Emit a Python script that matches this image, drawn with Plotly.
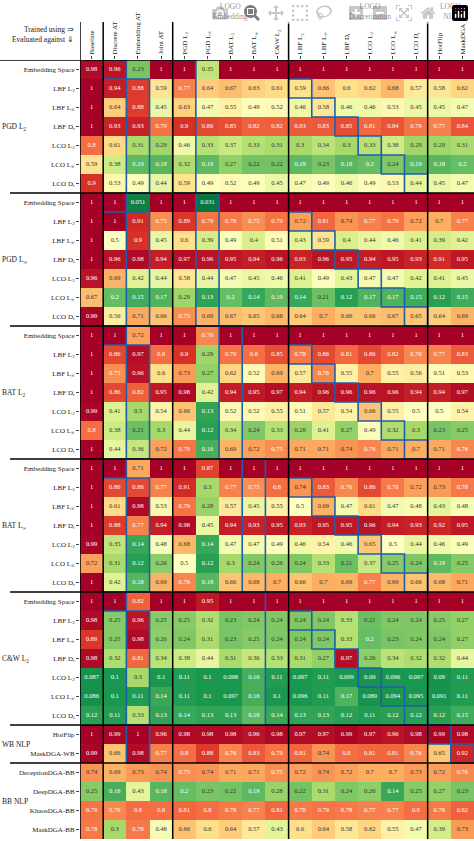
import plotly.graph_objects as go

cols = ["Baseline", "Discrete AT", "Embedding AT", "Joint AT", "PGD L<sub>2</sub>", "PGD L<sub>∞</sub>",
        "BAT L<sub>2</sub>", "BAT L<sub>∞</sub>", "C&W L<sub>2</sub>", "LBF L<sub>2</sub>", "LBF L<sub>∞</sub>",
        "LBF D<sub>r</sub>", "LCO L<sub>2</sub>", "LCO L<sub>∞</sub>", "LCO D<sub>r</sub>", "HotFlip", "MaskDGA"]
sub_rows = ["Embedding Space", "LBF L<sub>2</sub>", "LBF L<sub>∞</sub>", "LBF D<sub>r</sub>",
            "LCO L<sub>2</sub>", "LCO L<sub>∞</sub>", "LCO D<sub>r</sub>"]
groups = ["PGD L<sub>2</sub>", "PGD L<sub>∞</sub>", "BAT L<sub>2</sub>", "BAT L<sub>∞</sub>", "C&W L<sub>2</sub>"]
wb_rows = ["HotFlip", "MaskDGA-WB"]
bb_rows = ["DeceptionDGA-BB", "DeepDGA-BB", "KhaosDGA-BB", "MaskDGA-BB"]

pgd_l2 = [
    [0.98, 0.96, 0.23, 1, 1, 0.35, 1, 1, 1, 1, 1, 1, 1, 1, 1, 1, 1],
    [1, 0.94, 0.88, 0.59, 0.77, 0.64, 0.67, 0.63, 0.61, 0.59, 0.66, 0.6, 0.62, 0.68, 0.57, 0.58, 0.62],
    [1, 0.64, 0.88, 0.45, 0.63, 0.47, 0.55, 0.49, 0.52, 0.46, 0.58, 0.46, 0.46, 0.53, 0.45, 0.45, 0.47],
    [1, 0.93, 0.93, 0.79, 0.9, 0.86, 0.85, 0.82, 0.82, 0.83, 0.83, 0.85, 0.81, 0.84, 0.79, 0.77, 0.84],
    [0.8, 0.61, 0.31, 0.29, 0.46, 0.33, 0.37, 0.33, 0.31, 0.3, 0.34, 0.3, 0.33, 0.38, 0.29, 0.29, 0.31],
    [0.59, 0.38, 0.19, 0.18, 0.32, 0.19, 0.27, 0.22, 0.22, 0.19, 0.23, 0.18, 0.2, 0.24, 0.19, 0.18, 0.2],
    [0.9, 0.53, 0.49, 0.44, 0.59, 0.49, 0.52, 0.49, 0.45, 0.47, 0.49, 0.46, 0.49, 0.53, 0.44, 0.45, 0.47],
]
pgd_linf = [
    [1, 1, 0.051, 1, 1, 0.031, 1, 1, 1, 1, 1, 1, 1, 1, 1, 1, 1],
    [1, 1, 0.91, 0.75, 0.89, 0.79, 0.78, 0.75, 0.79, 0.72, 0.81, 0.74, 0.77, 0.79, 0.72, 0.7, 0.77],
    [1, 0.5, 0.9, 0.45, 0.6, 0.39, 0.49, 0.4, 0.51, 0.43, 0.59, 0.4, 0.44, 0.46, 0.41, 0.39, 0.42],
    [1, 0.96, 0.98, 0.94, 0.97, 0.96, 0.95, 0.94, 0.96, 0.93, 0.96, 0.95, 0.94, 0.95, 0.93, 0.91, 0.95],
    [0.96, 0.69, 0.42, 0.44, 0.58, 0.44, 0.47, 0.45, 0.46, 0.41, 0.49, 0.43, 0.47, 0.47, 0.42, 0.41, 0.45],
    [0.67, 0.2, 0.15, 0.17, 0.29, 0.13, 0.2, 0.14, 0.19, 0.14, 0.21, 0.12, 0.17, 0.17, 0.15, 0.12, 0.15],
    [0.99, 0.56, 0.71, 0.66, 0.75, 0.69, 0.67, 0.65, 0.68, 0.64, 0.7, 0.66, 0.66, 0.67, 0.65, 0.64, 0.69],
]
bat_l2 = [
    [1, 1, 0.72, 1, 1, 0.76, 1, 1, 1, 1, 1, 1, 1, 1, 1, 1, 1],
    [1, 0.86, 0.97, 0.8, 0.9, 0.29, 0.79, 0.8, 0.85, 0.78, 0.86, 0.81, 0.86, 0.82, 0.76, 0.77, 0.83],
    [1, 0.75, 0.96, 0.6, 0.73, 0.27, 0.62, 0.52, 0.69, 0.57, 0.76, 0.55, 0.7, 0.55, 0.56, 0.51, 0.53],
    [1, 0.86, 0.82, 0.95, 0.98, 0.42, 0.94, 0.95, 0.97, 0.94, 0.96, 0.96, 0.96, 0.96, 0.94, 0.94, 0.97],
    [0.99, 0.41, 0.3, 0.54, 0.66, 0.13, 0.52, 0.52, 0.55, 0.51, 0.57, 0.54, 0.66, 0.55, 0.5, 0.5, 0.54],
    [0.8, 0.38, 0.21, 0.3, 0.44, 0.12, 0.34, 0.24, 0.33, 0.28, 0.41, 0.27, 0.49, 0.32, 0.3, 0.23, 0.25],
    [1, 0.44, 0.36, 0.72, 0.79, 0.16, 0.69, 0.72, 0.75, 0.71, 0.71, 0.74, 0.76, 0.71, 0.7, 0.71, 0.76],
]
bat_linf = [
    [1, 1, 0.71, 1, 1, 0.87, 1, 1, 1, 1, 1, 1, 1, 1, 1, 1, 1],
    [1, 0.86, 0.86, 0.77, 0.91, 0.3, 0.77, 0.75, 0.8, 0.74, 0.83, 0.76, 0.86, 0.78, 0.72, 0.73, 0.78],
    [1, 0.61, 0.98, 0.53, 0.79, 0.28, 0.57, 0.45, 0.55, 0.5, 0.69, 0.47, 0.61, 0.47, 0.48, 0.43, 0.48],
    [1, 0.88, 0.77, 0.94, 0.98, 0.45, 0.94, 0.93, 0.95, 0.93, 0.95, 0.95, 0.96, 0.94, 0.93, 0.92, 0.95],
    [0.99, 0.35, 0.14, 0.48, 0.68, 0.14, 0.47, 0.47, 0.49, 0.46, 0.54, 0.46, 0.65, 0.5, 0.44, 0.46, 0.49],
    [0.72, 0.31, 0.12, 0.26, 0.5, 0.12, 0.3, 0.24, 0.26, 0.24, 0.33, 0.21, 0.37, 0.25, 0.24, 0.19, 0.25],
    [1, 0.42, 0.18, 0.69, 0.76, 0.18, 0.66, 0.68, 0.7, 0.66, 0.7, 0.69, 0.77, 0.69, 0.66, 0.68, 0.71],
]
cw_l2 = [
    [1, 1, 0.82, 1, 1, 0.95, 1, 1, 1, 1, 1, 1, 1, 1, 1, 1, 1],
    [0.98, 0.25, 0.96, 0.25, 0.25, 0.32, 0.23, 0.24, 0.24, 0.24, 0.24, 0.33, 0.21, 0.24, 0.24, 0.25, 0.27],
    [0.89, 0.25, 0.98, 0.26, 0.24, 0.31, 0.23, 0.25, 0.24, 0.24, 0.24, 0.33, 0.2, 0.23, 0.24, 0.24, 0.27],
    [0.98, 0.32, 0.81, 0.34, 0.38, 0.44, 0.31, 0.36, 0.33, 0.31, 0.27, 0.97, 0.26, 0.34, 0.32, 0.32, 0.44],
    [0.087, 0.1, 0.3, 0.1, 0.11, 0.1, 0.098, 0.16, 0.11, 0.097, 0.11, 0.099, 0.09, 0.096, 0.097, 0.09, 0.11],
    [0.086, 0.1, 0.11, 0.14, 0.11, 0.1, 0.097, 0.16, 0.1, 0.096, 0.11, 0.17, 0.089, 0.094, 0.095, 0.091, 0.11],
    [0.12, 0.11, 0.33, 0.13, 0.14, 0.13, 0.13, 0.19, 0.14, 0.13, 0.13, 0.12, 0.11, 0.12, 0.12, 0.12, 0.15],
]
wb_nlp = [
    [1, 0.99, 1, 0.96, 0.98, 0.98, 0.98, 0.96, 0.98, 0.97, 0.97, 0.99, 0.97, 0.96, 0.98, 0.99, 0.98],
    [0.99, 0.66, 0.98, 0.77, 0.8, 0.88, 0.76, 0.83, 0.79, 0.81, 0.74, 0.8, 0.81, 0.81, 0.76, 0.65, 0.92],
]
bb_nlp = [
    [0.74, 0.69, 0.73, 0.74, 0.75, 0.74, 0.71, 0.71, 0.75, 0.72, 0.74, 0.72, 0.7, 0.7, 0.73, 0.72, 0.76],
    [0.25, 0.16, 0.43, 0.18, 0.2, 0.23, 0.22, 0.19, 0.28, 0.22, 0.31, 0.24, 0.26, 0.14, 0.25, 0.27, 0.23],
    [0.79, 0.76, 0.8, 0.8, 0.81, 0.8, 0.78, 0.77, 0.81, 0.78, 0.79, 0.78, 0.77, 0.77, 0.8, 0.78, 0.82],
    [0.78, 0.3, 0.78, 0.48, 0.66, 0.6, 0.64, 0.57, 0.43, 0.6, 0.64, 0.58, 0.62, 0.55, 0.47, 0.39, 0.73],
]

Z = pgd_l2 + pgd_linf + bat_l2 + bat_linf + cw_l2 + wb_nlp + bb_nlp
row_labels = sub_rows * 5 + wb_rows + bb_rows
nr, nc = len(Z), len(cols)
FONT = "Liberation Serif"

def fmt(v):
    return ("%g" % v)

fig = go.Figure()
fig.add_trace(go.Heatmap(z=Z, x=list(range(nc)), y=list(range(nr)), colorscale="RdYlGn_r",
                         zmin=0, zmax=1, showscale=False, xgap=0, ygap=0, hoverinfo="skip"))
for light in (True, False):
    xs, ys, ts = [], [], []
    for r in range(nr):
        for c in range(nc):
            v = Z[r][c]
            is_light = v >= 0.75 or v <= 0.2
            if is_light == light:
                xs.append(c); ys.append(r); ts.append(fmt(v))
    fig.add_trace(go.Scatter(x=xs, y=ys, text=ts, mode="text", hoverinfo="skip", showlegend=False,
                             textfont=dict(size=6.5, family=FONT, color="white" if light else "#333")))

shapes = []
blue = dict(color="#1f5fa8", width=1.6)
def box(c0, c1, r0, r1):
    shapes.append(dict(type="rect", xref="x", yref="y", x0=c0 - 0.5, x1=c1 + 0.5, y0=r0 - 0.5, y1=r1 + 0.5,
                       line=blue, fillcolor="rgba(0,0,0,0)"))
for g in range(5):
    b = g * 7
    box(1, 1, b, b)
    box(2, 2, b + 1, b + 6)
    box(4 + g, 4 + g, b, b + 6)
    for k in range(6):
        box(9 + k, 9 + k, b + 1 + k, b + 1 + k)
box(2, 2, 35, 36)
box(15, 15, 35, 35)
box(16, 16, 36, 36)

black = dict(color="black", width=1.5)
head_top = 1 + 38 / 779
for c in (-0.5, 0.5, 3.5, 8.5, 14.5):
    shapes.append(dict(type="line", xref="x", yref="paper", x0=c, x1=c, y0=0, y1=head_top, line=black))
for r in (6.5, 13.5, 20.5, 27.5, 34.5, 36.5):
    shapes.append(dict(type="line", xref="paper", yref="y", x0=-70 / 394, x1=1, y0=r, y1=r, line=black))
shapes.append(dict(type="line", xref="paper", yref="y", x0=-80 / 394, x1=1, y0=-0.5, y1=-0.5, line=black))

ann = []
for g, name in enumerate(groups):
    ann.append(dict(text=name, xref="paper", yref="y", x=-80 / 394, y=g * 7 + 3, xanchor="left",
                    showarrow=False, font=dict(size=7.5, family=FONT, color="#222")))
ann.append(dict(text="WB NLP", xref="paper", yref="y", x=-80 / 394, y=35.5, xanchor="left",
                showarrow=False, font=dict(size=7.5, family=FONT, color="#222")))
ann.append(dict(text="BB NLP", xref="paper", yref="y", x=-80 / 394, y=38.5, xanchor="left",
                showarrow=False, font=dict(size=7.5, family=FONT, color="#222")))
for txt, c in (("LOGO<br>Embedding", 6), ("LOGO<br>Discretization", 12), ("LOGO<br>NLP", 15.5)):
    ann.append(dict(text=txt, xref="x", yref="paper", x=c, y=1 + 37 / 779, yanchor="bottom",
                    showarrow=False, font=dict(size=7.5, family=FONT, color="#222")))
ann.append(dict(text="Trained using ⇒<br>Evaluated against ⇓", xref="paper", yref="paper", x=-4 / 394,
                y=1 + 14 / 779, xanchor="right", yanchor="bottom", align="right", showarrow=False,
                font=dict(size=7.5, family=FONT, color="#222")))

fig.update_layout(
    width=474, height=841, margin=dict(l=80, r=0, t=60, b=2),
    plot_bgcolor="white", paper_bgcolor="white", shapes=shapes, annotations=ann, showlegend=False,
    xaxis=dict(side="top", tickvals=list(range(nc)), ticktext=cols, tickangle=-90, range=[-0.5, nc - 0.5],
               ticks="outside", ticklen=3, tickfont=dict(size=7, family=FONT, color="#222"), showgrid=False,
               zeroline=False, fixedrange=True),
    yaxis=dict(tickvals=list(range(nr)), ticktext=row_labels, range=[nr - 0.5, -0.5], ticks="outside",
               ticklen=3, tickfont=dict(size=7, family=FONT, color="#222"), showgrid=False, zeroline=False),
)
fig.write_html("out.html", post_script="document.body.style.margin='0';document.body.style.overflow='hidden';")
